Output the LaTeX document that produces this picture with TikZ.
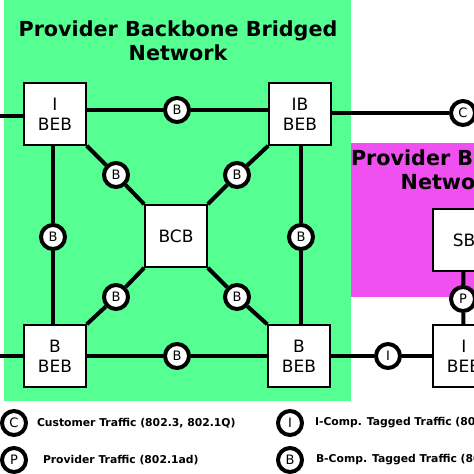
\documentclass[tikz,border=0pt]{standalone}
\usepackage{fontspec}
\setmainfont{DejaVu Sans}
\definecolor{pbbn}{RGB}{85,255,145}
\definecolor{pbn}{RGB}{240,80,240}

\begin{document}
\begin{tikzpicture}
[x=1pt,y=-1pt,line width=4pt,
 every node/.style={font=\fontsize{17}{20}\selectfont},
 bridge/.style={draw,line width=1.6pt,fill=white,minimum size=62pt,inner sep=0pt,align=center},
 tag/.style={circle,draw,line width=4pt,fill=white,minimum size=24pt,inner sep=0pt,font=\fontsize{13}{13}\selectfont},
 title/.style={font=\fontsize{20.7}{24}\bfseries\selectfont,align=center,inner sep=0pt},
 key/.style={font=\fontsize{10.8}{12}\bfseries\selectfont,anchor=west,inner sep=0pt}]
\clip (0,0) rectangle (474,474);
\fill[white] (0,0) rectangle (474,474);
\fill[pbbn] (4,0) rectangle (351,401);
\fill[pbn] (351,143) rectangle (480,297);
\node[title] (pbbntitle) at (178,41) {Provider Backbone Bridged\\Network};
\node[title,anchor=west] (pbntitle) at (349,170) {Provider Bridged\\Network};
% bridges
\node[bridge] (ibeb) at (55,114) {I\\BEB};
\node[bridge] (ibbeb) at (300,114) {IB\\BEB};
\node[bridge] (bcb) at (176,236) {BCB};
\node[bridge] (bbeb) at (55,356) {B\\BEB};
\node[bridge] (bbeb2) at (299,356) {B\\BEB};
\node[bridge] (sb) at (464,240) {SB};
\node[bridge] (ibeb2) at (464,356) {I\\BEB};
\coordinate (w1) at (-5,116);
\coordinate (w2) at (-5,356);
\coordinate (e1) at (490,113);
% traffic tags
\node[tag] (t1) at (177,110) {B};
\node[tag] (t2) at (116,175) {B};
\node[tag] (t3) at (237,175) {B};
\node[tag] (t4) at (53,237) {B};
\node[tag] (t5) at (301,237) {B};
\node[tag] (t6) at (116,297) {B};
\node[tag] (t7) at (237,297) {B};
\node[tag] (t8) at (177,356) {B};
\node[tag] (t9) at (388,356) {I};
\node[tag] (t10) at (463,113) {C};
\node[tag] (t11) at (463,299) {P};
% links
\foreach \from/\via/\to in {bbeb/t8/bbeb2,bbeb2/t9/ibeb2,sb/t11/ibeb2,
  ibeb.south east/t2/bcb.north west,ibbeb.south west/t3/bcb.north east,
  bbeb.north east/t6/bcb.south west,bbeb2.north west/t7/bcb.south east}
\draw (\from) -- (\via) -- (\to);
\draw (ibeb.east |- t1) -- (t1) -- (ibbeb.west |- t1);
\draw (ibbeb.east |- t10) -- (t10) -- (e1);
\draw (ibeb.south -| t4) -- (t4) -- (bbeb.north -| t4);
\draw (ibbeb.south -| t5) -- (t5) -- (bbeb2.north -| t5);
\draw (w1) -- (ibeb.west |- w1);
\draw (w2) -- (bbeb);
% legend
\node[tag] (kc) at (14,423) {C};
\node[key] (kctext) at (35,423) {Customer Traffic (802.3, 802.1Q)};
\node[tag] (kp) at (14,460) {P};
\node[key] (kptext) at (41,460) {Provider Traffic (802.1ad)};
\node[tag] (ki) at (290,423) {I};
\node[key] (kitext) at (313,423) {I-Comp. Tagged Traffic (802.1ah)};
\node[tag] (kb) at (290,460) {B};
\node[key] (kbtext) at (314,460) {B-Comp. Tagged Traffic (802.1ah)};
\end{tikzpicture}
\end{document}
